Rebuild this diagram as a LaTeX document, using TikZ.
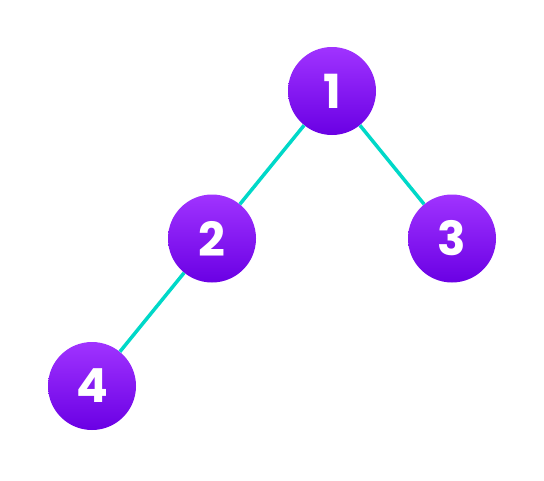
\documentclass[tikz,border=0pt]{standalone}
\usepackage{fontspec}
\setmainfont{Poppins}
\usetikzlibrary{trees,arrows}
\usepackage{xcolor}
\definecolor{nodetop}{HTML}{A033FF}
\definecolor{nodebottom}{HTML}{6A00E4}
\definecolor{edgeteal}{HTML}{00D8C8}

\begin{document}
\begin{tikzpicture}[
                   grow = down,
edge from parent/.style = {draw=edgeteal, line width=3.5pt},
      every node/.style = {circle, minimum size=88pt, inner sep=0pt,
                           top color=nodetop, bottom color=nodebottom,
                           text=white, font=\fontsize{47}{47}\selectfont\bfseries},
         level distance = 147.5pt,
       sibling distance = 240pt,
                     ]
\useasboundingbox (0,0) rectangle (544pt,-480pt);
\node (n1) at (332pt,-91pt) {1}
    child {node (n2) {2}
        child {node (n4) {4}}
        child[missing] {}%<---------------- nothing on the right
            }
    child {node (n3) {3}};
\end{tikzpicture}
\end{document}
